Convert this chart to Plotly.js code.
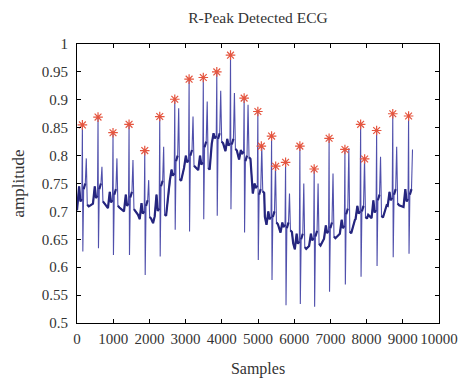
<!DOCTYPE html>
<html><head><meta charset="utf-8">
<script src="https://cdn.plot.ly/plotly-3.0.1.min.js"></script>
<style>html,body{margin:0;padding:0;background:#fff}#c{width:474px;height:392px}</style>
</head><body><div id="c"></div>
<script>
// Detected R-peak markers (sample index, amplitude)
const peakX = [149,581,995,1438,1872,2286,2701,3097,3489,3862,4241,4617,4996,5092,5375,5488,5762,6157,6552,6964,7401,7835,7946,8277,8723,9160];
const peakY = [0.855,0.869,0.841,0.856,0.809,0.870,0.901,0.937,0.940,0.950,0.980,0.903,0.879,0.817,0.835,0.781,0.788,0.817,0.776,0.831,0.811,0.856,0.794,0.845,0.875,0.871];

// Heartbeats: R position, P-wave top, level before QRS, R top, S bottom, ST level, T-wave top
const beatX  = [149,581,995,1438,1872,2286,2701,3097,3489,3862,4241,4617,4996,5375,5762,6157,6552,6964,7401,7835,8277,8723,9160];
const beatP  = [0.745,0.745,0.735,0.730,0.715,0.730,0.775,0.800,0.800,0.840,0.830,0.810,0.750,0.700,0.680,0.660,0.660,0.675,0.685,0.710,0.720,0.735,0.740];
const beatQ  = [0.712,0.718,0.710,0.704,0.690,0.695,0.758,0.782,0.778,0.825,0.812,0.797,0.736,0.680,0.666,0.636,0.642,0.655,0.664,0.690,0.692,0.714,0.712];
const beatR  = [0.855,0.869,0.841,0.856,0.809,0.870,0.901,0.937,0.940,0.950,0.980,0.903,0.879,0.835,0.788,0.817,0.776,0.831,0.811,0.856,0.845,0.875,0.871];
const beatS  = [0.628,0.634,0.622,0.622,0.586,0.619,0.667,0.664,0.686,0.692,0.704,0.662,0.613,0.577,0.532,0.534,0.529,0.556,0.569,0.583,0.602,0.618,0.624];
const beatST = [0.740,0.740,0.730,0.725,0.710,0.745,0.790,0.800,0.815,0.830,0.820,0.790,0.730,0.690,0.670,0.650,0.655,0.670,0.695,0.700,0.720,0.730,0.730];
const beatT  = [0.795,0.780,0.795,0.792,0.756,0.816,0.885,0.870,0.897,0.916,0.912,0.891,0.817,0.781,0.732,0.750,0.750,0.768,0.813,0.794,0.798,0.816,0.811];

// Baseline between beats
const baseX = [0,351,489,766,904,1181,1319,1548,1686,1780,1963,2101,2195,2425,2563,2839,2977,3207,3345,3622,3760,3992,4131,4360,4498,4728,4866,4941,5190,5281,5557,5651,5881,5972,6066,6295,6434,6710,6849,7078,7263,7540,7678,7769,8045,8139,8416,8554,8875,9013];
const baseY = [0.702,0.710,0.720,0.711,0.708,0.708,0.706,0.700,0.694,0.690,0.688,0.679,0.685,0.745,0.750,0.786,0.781,0.780,0.771,0.810,0.822,0.819,0.810,0.810,0.798,0.774,0.756,0.735,0.690,0.682,0.673,0.667,0.658,0.643,0.634,0.640,0.640,0.655,0.652,0.664,0.661,0.694,0.685,0.688,0.694,0.688,0.720,0.711,0.711,0.710];

// assemble the ECG polyline from the read values; 'spike' marks R, S and T points
const pts = [];
baseX.forEach((x,i)=>{
  const inBeat = i > 0 && beatX.some(b => x > b-150 && x < b+190);
  if(!inBeat) pts.push([x, baseY[i], false]);
});
const last = beatX.length-1;
beatX.forEach((b,i)=>{
  if(i>0) pts.push([b-140, beatQ[i]-0.004, false]);
  pts.push([b-90, beatP[i], false]);
  pts.push([b-55, beatQ[i]+0.006, false]);
  pts.push([b-15, beatQ[i]+0.01, false]);
  pts.push([b, beatR[i], true]);
  pts.push([b+12, beatS[i], true]);
  pts.push([b+35, beatST[i], false]);
  pts.push([b+80, beatST[i]+0.01, false]);
  pts.push([b+108, beatT[i], true]);
  if(i!==last){ pts.push([b+135, beatQ[i], false]); pts.push([b+175, beatQ[i]-0.003, false]); }
});
pts.sort((a,b)=>a[0]-b[0]);
const sigX = pts.map(p=>p[0]), sigY = pts.map(p=>p[1]);
const darkY = pts.map(p=>p[2] ? null : p[1]);

const fam = '"Liberation Serif", "DejaVu Serif", serif';
const font = {family:fam, color:'#333', size:15};
const data = [
  {x:sigX, y:sigY, type:'scatter', mode:'lines', line:{color:'#5050ac', width:1.1}, hoverinfo:'skip'},
  {x:sigX, y:darkY, type:'scatter', mode:'lines', connectgaps:false, line:{color:'#25257e', width:2.2}, hoverinfo:'skip'},
  {x:peakX, y:peakY, type:'scatter', mode:'markers', marker:{symbol:'asterisk-open', size:8, line:{color:'#e5553f', width:1.2}, color:'#e5553f'}}
];
const axisBase = {showline:true, mirror:'allticks', linecolor:'#000', linewidth:1, ticks:'inside', ticklen:4, tickcolor:'#000', showgrid:false, zeroline:false, tickfont:font, exponentformat:'none', separatethousands:false};
const layout = {
  width:474, height:392, showlegend:false,
  paper_bgcolor:'#fff', plot_bgcolor:'#fff',
  margin:{l:77, r:35, t:44, b:69},
  font:font,
  title:{text:'R-Peak Detected ECG', font:{family:fam, size:15.5, color:'#333'}, x:0.5, xref:'paper', y:1-18/392, yanchor:'middle'},
  xaxis:Object.assign({}, axisBase, {range:[0,10000], dtick:1000, tick0:0, tickformat:'d', ticklabelstandoff:2, title:{text:'Samples', font:{family:fam, size:16, color:'#333'}, standoff:16}}),
  yaxis:Object.assign({}, axisBase, {range:[0.5,1], dtick:0.05, tick0:0.5, ticklabelstandoff:5, title:{text:'amplitude', font:{family:fam, size:17, color:'#333'}, standoff:12}})
};
Plotly.newPlot('c', data, layout, {displayModeBar:false, staticPlot:true});
</script>
</body></html>
